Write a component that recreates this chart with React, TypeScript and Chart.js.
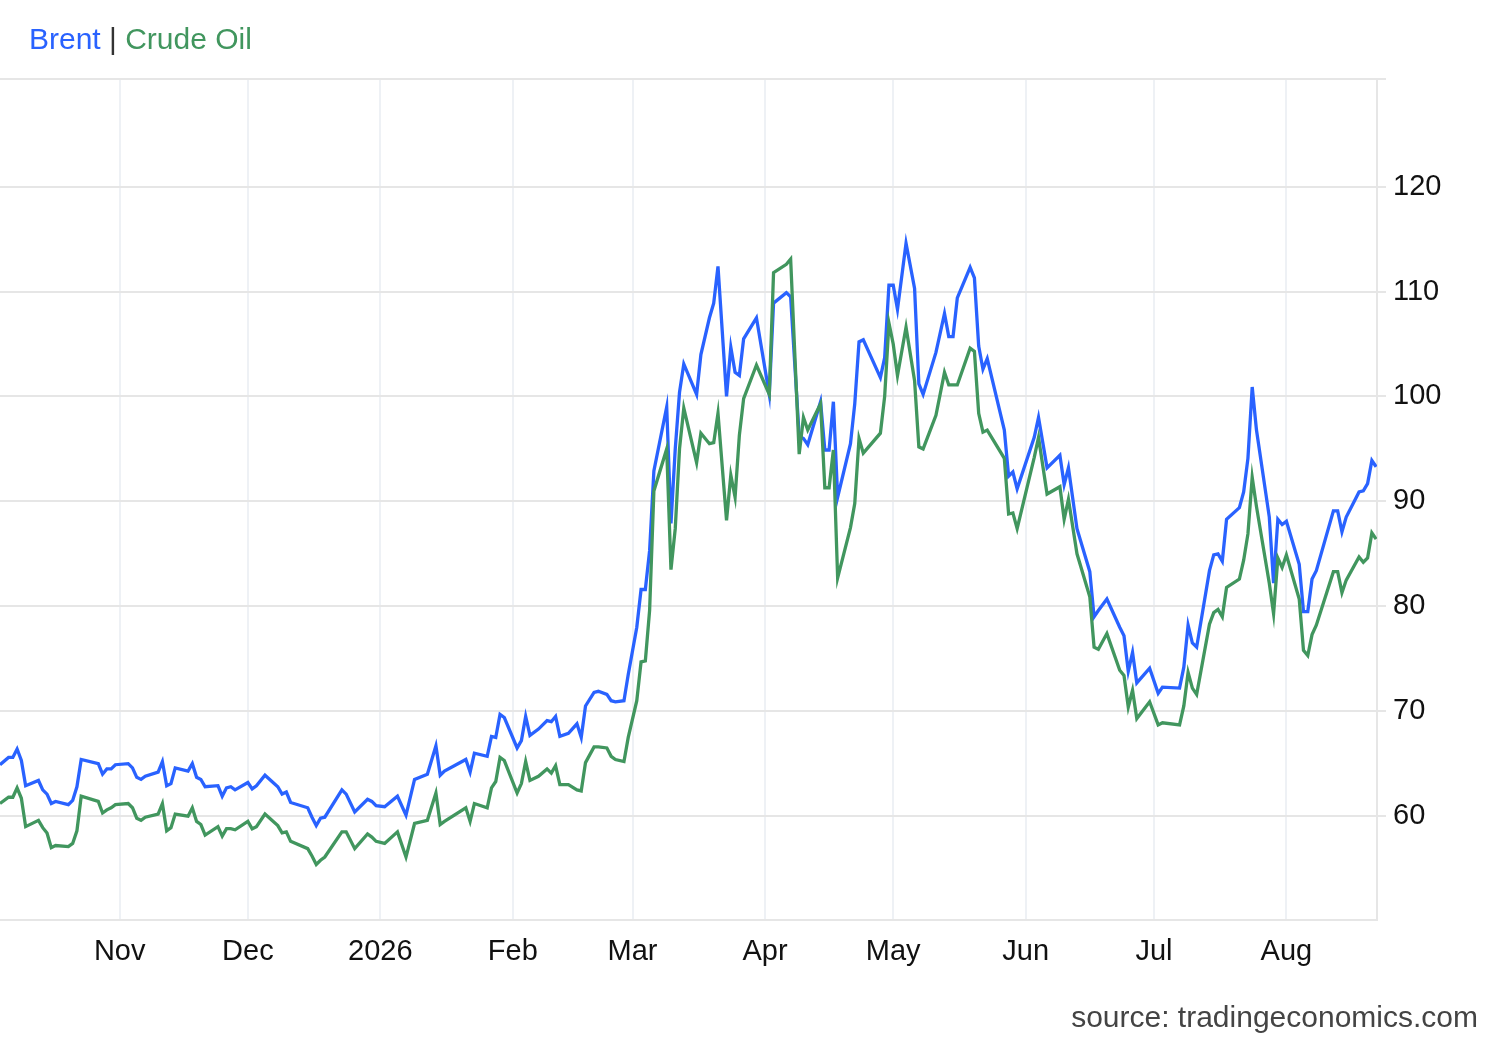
import React, { useEffect, useRef } from "react";
import { Chart, registerables } from "chart.js";

Chart.register(...registerables);

// ---- data ----
const dates = [
  "2025-10-04", "2025-10-06", "2025-10-07", "2025-10-08", "2025-10-09", "2025-10-10",
  "2025-10-13", "2025-10-14", "2025-10-15", "2025-10-16", "2025-10-17",
  "2025-10-20", "2025-10-21", "2025-10-22", "2025-10-23",
  "2025-10-27", "2025-10-28", "2025-10-29", "2025-10-30", "2025-10-31",
  "2025-11-03", "2025-11-04", "2025-11-05", "2025-11-06", "2025-11-07",
  "2025-11-10", "2025-11-11", "2025-11-12", "2025-11-13", "2025-11-14",
  "2025-11-17", "2025-11-18", "2025-11-19", "2025-11-20", "2025-11-21",
  "2025-11-24", "2025-11-25", "2025-11-26", "2025-11-27", "2025-11-28",
  "2025-12-01", "2025-12-02", "2025-12-03", "2025-12-05",
  "2025-12-08", "2025-12-09", "2025-12-10", "2025-12-11",
  "2025-12-15", "2025-12-16", "2025-12-17", "2025-12-18", "2025-12-19",
  "2025-12-23", "2025-12-24", "2025-12-26", "2025-12-29", "2025-12-30", "2025-12-31",
  "2026-01-02", "2026-01-05", "2026-01-07", "2026-01-09",
  "2026-01-12", "2026-01-14", "2026-01-15", "2026-01-16",
  "2026-01-21", "2026-01-22", "2026-01-23",
  "2026-01-26", "2026-01-27", "2026-01-28", "2026-01-29", "2026-01-30",
  "2026-02-02", "2026-02-03", "2026-02-04", "2026-02-05", "2026-02-07",
  "2026-02-09", "2026-02-10", "2026-02-11", "2026-02-12", "2026-02-14",
  "2026-02-16", "2026-02-17", "2026-02-18", "2026-02-20", "2026-02-21",
  "2026-02-23", "2026-02-24", "2026-02-25", "2026-02-27", "2026-02-28",
  "2026-03-02", "2026-03-03", "2026-03-04", "2026-03-05", "2026-03-06",
  "2026-03-09", "2026-03-10", "2026-03-11", "2026-03-12", "2026-03-13",
  "2026-03-16", "2026-03-17", "2026-03-19", "2026-03-20", "2026-03-21",
  "2026-03-23", "2026-03-24", "2026-03-25", "2026-03-26", "2026-03-27",
  "2026-03-30", "2026-04-02", "2026-04-03",
  "2026-04-06", "2026-04-07", "2026-04-09", "2026-04-10", "2026-04-11",
  "2026-04-14", "2026-04-15", "2026-04-16", "2026-04-17", "2026-04-18",
  "2026-04-21", "2026-04-22", "2026-04-23", "2026-04-24",
  "2026-04-28", "2026-04-29", "2026-04-30", "2026-05-01", "2026-05-02",
  "2026-05-04", "2026-05-06", "2026-05-07", "2026-05-08",
  "2026-05-11", "2026-05-13", "2026-05-14", "2026-05-15", "2026-05-16",
  "2026-05-19", "2026-05-20", "2026-05-21", "2026-05-22", "2026-05-23",
  "2026-05-27", "2026-05-28", "2026-05-29", "2026-05-30",
  "2026-06-03", "2026-06-04", "2026-06-06",
  "2026-06-09", "2026-06-10", "2026-06-11", "2026-06-13",
  "2026-06-16", "2026-06-17", "2026-06-18", "2026-06-20",
  "2026-06-23", "2026-06-24", "2026-06-25", "2026-06-26", "2026-06-27",
  "2026-06-30", "2026-07-02", "2026-07-03",
  "2026-07-07", "2026-07-08", "2026-07-09", "2026-07-10", "2026-07-11",
  "2026-07-14", "2026-07-15", "2026-07-16", "2026-07-17", "2026-07-18",
  "2026-07-21", "2026-07-22", "2026-07-23", "2026-07-24", "2026-07-25",
  "2026-07-28", "2026-07-29", "2026-07-30", "2026-07-31", "2026-08-01",
  "2026-08-04", "2026-08-05", "2026-08-06", "2026-08-07", "2026-08-08",
  "2026-08-12", "2026-08-13", "2026-08-14", "2026-08-15",
  "2026-08-18", "2026-08-19", "2026-08-20", "2026-08-21", "2026-08-22",
];

const brent = [
  64.9, 65.6, 65.6, 66.4, 65.3, 62.9,
  63.4, 62.5, 62.1, 61.2, 61.4,
  61.1, 61.5, 62.8, 65.4,
  65.0, 64.0, 64.5, 64.5, 64.9,
  65.0, 64.6, 63.7, 63.5, 63.8,
  64.2, 65.2, 62.9, 63.1, 64.6,
  64.3, 65.0, 63.7, 63.5, 62.8,
  62.9, 61.9, 62.7, 62.8, 62.5,
  63.2, 62.6, 62.9, 63.9,
  62.8, 62.1, 62.3, 61.3,
  60.8, 59.9, 59.1, 59.8, 59.9,
  62.5, 62.1, 60.4, 61.6, 61.4, 61.0,
  60.9, 61.9, 60.1, 63.5,
  64.0, 66.7, 63.9, 64.3,
  65.4, 64.2, 66.0,
  65.7, 67.6, 67.5, 69.7, 69.4,
  66.5, 67.2, 69.5, 67.7, 68.3,
  69.1, 69.0, 69.5, 67.6, 67.9,
  68.8, 67.5, 70.5, 71.8, 71.9,
  71.6, 71.0, 70.9, 71.0, 73.5,
  78.0, 81.6, 81.6, 85.3, 92.9,
  99.0, 87.9, 95.0, 100.4, 103.1,
  100.2, 104.0, 107.5, 108.9, 112.4,
  100.0, 104.7, 102.3, 102.0, 105.5,
  107.5, 100.2, 108.9,
  109.9, 109.5, 96.2, 96.0, 95.4,
  99.5, 94.9, 94.9, 99.5, 90.4,
  95.5, 99.3, 105.2, 105.4,
  101.8, 103.7, 110.6, 110.6, 108.3,
  114.6, 110.3, 101.2, 100.2,
  104.2, 107.9, 105.7, 105.7, 109.4,
  112.3, 111.3, 104.8, 102.6, 103.6,
  96.8, 92.4, 92.8, 91.2,
  96.1, 98.0, 93.2,
  94.4, 91.6, 93.2, 87.4,
  83.3, 79.0, 79.6, 80.7,
  78.0, 77.2, 73.8, 75.6, 72.7,
  74.1, 71.7, 72.3,
  72.2, 74.2, 78.2, 76.5, 76.1,
  83.4, 84.9, 85.0, 84.3, 88.3,
  89.4, 90.9, 94.1, 100.9, 96.8,
  88.5, 82.2, 88.3, 87.8, 88.1,
  84.0, 79.5, 79.5, 82.6, 83.4,
  89.1, 89.1, 87.1, 88.5,
  90.9, 91.0, 91.7, 93.9, 93.3,
];

const crudeOil = [
  61.2, 61.8, 61.8, 62.7, 61.7, 59.0,
  59.6, 58.9, 58.4, 57.0, 57.2,
  57.1, 57.4, 58.6, 61.9,
  61.4, 60.3, 60.6, 60.8, 61.1,
  61.2, 60.8, 59.8, 59.6, 59.9,
  60.2, 61.2, 58.6, 58.9, 60.2,
  60.0, 60.8, 59.5, 59.2, 58.2,
  59.0, 58.1, 58.8, 58.8, 58.7,
  59.5, 58.8, 59.0, 60.2,
  59.1, 58.4, 58.5, 57.6,
  56.9, 56.2, 55.4, 55.8, 56.1,
  58.5, 58.5, 56.9, 58.3, 58.0, 57.6,
  57.4, 58.5, 56.1, 59.3,
  59.6, 62.2, 59.2, 59.5,
  60.8, 59.5, 61.2,
  60.8, 62.7, 63.3, 65.6, 65.3,
  62.2, 63.1, 65.2, 63.4, 63.8,
  64.5, 64.1, 64.8, 63.0, 63.0,
  62.5, 62.4, 65.1, 66.6, 66.6,
  66.5, 65.7, 65.4, 65.2, 67.5,
  71.0, 74.7, 74.8, 79.6, 91.0,
  95.0, 83.5, 87.4, 95.0, 98.9,
  93.7, 96.5, 95.5, 95.6, 98.4,
  88.2, 92.5, 90.4, 96.3, 99.8,
  103.0, 100.2, 111.8,
  112.6, 113.1, 94.5, 98.0, 96.8,
  99.3, 91.3, 91.3, 94.9, 82.7,
  87.5, 89.8, 96.0, 94.6,
  96.5, 100.0, 107.0, 105.0, 102.0,
  106.6, 101.5, 95.2, 95.0,
  98.2, 102.3, 101.1, 101.1, 101.1,
  104.6, 104.3, 98.4, 96.6, 96.8,
  94.1, 88.8, 88.9, 87.4,
  94.2, 96.1, 90.7,
  91.4, 88.3, 90.2, 85.0,
  80.9, 76.1, 75.9, 77.4,
  73.9, 73.4, 70.4, 72.0, 69.3,
  70.9, 68.7, 68.9,
  68.7, 70.5, 73.7, 72.2, 71.6,
  78.3, 79.4, 79.7, 79.0, 81.8,
  82.6, 84.4, 86.9, 92.3, 89.5,
  82.2, 79.3, 84.6, 83.7, 84.9,
  80.7, 75.8, 75.3, 77.3, 78.2,
  83.3, 83.3, 81.3, 82.5,
  84.7, 84.2, 84.6, 87.0, 86.4,
];

const monthTickDates = [
  "2025-11-01", "2025-12-01", "2026-01-01", "2026-02-01", "2026-03-01",
  "2026-04-01", "2026-05-01", "2026-06-01", "2026-07-01", "2026-08-01",
];
const monthTickLabels = ["Nov", "Dec", "2026", "Feb", "Mar", "Apr", "May", "Jun", "Jul", "Aug"];
const priceTicks = [60, 70, 80, 90, 100, 110, 120];

// ---- helpers ----
const BASE = Date.UTC(2025, 9, 1);
const dayOf = (s: string): number => {
  const [y, m, d] = s.split("-").map(Number);
  return (Date.UTC(y, m - 1, d) - BASE) / 86400000;
};

const BLUE = "#2962ff";
const GREEN = "#41965e";
const FONT = '"Liberation Sans", Arial, Helvetica, sans-serif';

const topBorderPlugin = {
  id: "topBorder",
  beforeDatasetsDraw(chart: any) {
    const { ctx, chartArea } = chart;
    ctx.save();
    ctx.strokeStyle = "#e6e6e6";
    ctx.lineWidth = 2;
    ctx.beginPath();
    ctx.moveTo(0, chartArea.top);
    ctx.lineTo(chartArea.right + 9, chartArea.top);
    ctx.stroke();
    ctx.restore();
  },
};

export default function App() {
  const canvasRef = useRef<HTMLCanvasElement | null>(null);

  useEffect(() => {
    if (!canvasRef.current) return;
    const brentPts = dates.map((d, i) => ({ x: dayOf(d), y: brent[i] }));
    const crudePts = dates.map((d, i) => ({ x: dayOf(d), y: crudeOil[i] }));

    const chart = new Chart(canvasRef.current, {
      type: "line",
      data: {
        datasets: [
          {
            label: "Brent",
            data: brentPts,
            borderColor: BLUE,
            backgroundColor: BLUE,
            borderWidth: 3.3,
            pointRadius: 0,
            tension: 0,
            order: 1,
          },
          {
            label: "Crude Oil",
            data: crudePts,
            borderColor: GREEN,
            backgroundColor: GREEN,
            borderWidth: 3.3,
            pointRadius: 0,
            tension: 0,
            order: 0,
          },
        ],
      },
      plugins: [topBorderPlugin],
      options: {
        animation: false,
        responsive: false,
        devicePixelRatio: 1,
        layout: { padding: { top: 79, left: 0, right: 0, bottom: 0 } },
        plugins: {
          legend: { display: false },
          tooltip: { enabled: false },
          title: { display: false },
        },
        scales: {
          x: {
            type: "linear",
            position: "bottom",
            min: 3.0,
            max: 325.2,
            afterBuildTicks: (s: any) => {
              s.ticks = monthTickDates.map((d) => ({ value: dayOf(d) }));
            },
            afterFit: (s: any) => {
              s.height = 120;
            },
            ticks: {
              autoSkip: false,
              maxRotation: 0,
              padding: 15,
              color: "#111",
              font: { family: FONT, size: 29 },
              callback: (_v: any, i: number) => monthTickLabels[i],
            },
            grid: { color: "#eef1f5", lineWidth: 2, drawTicks: false },
            border: { color: "#e6e6e6", width: 2 },
          },
          y: {
            type: "linear",
            position: "right",
            min: 50.1,
            max: 130.26,
            afterBuildTicks: (s: any) => {
              s.ticks = priceTicks.map((v) => ({ value: v }));
            },
            afterFit: (s: any) => {
              s.width = 123;
            },
            ticks: {
              padding: 7,
              color: "#111",
              font: { family: FONT, size: 29 },
              callback: (v: any) => String(v),
            },
            grid: { color: "#e6e6e6", lineWidth: 2, tickLength: 9 },
            border: { color: "#e6e6e6", width: 2 },
          },
        },
      },
    } as any);

    return () => chart.destroy();
  }, []);

  return (
    <div style={{ position: "absolute", left: 0, top: 0, width: 1500, height: 1040, background: "#fff" }}>
      <canvas ref={canvasRef} width={1500} height={1040} style={{ display: "block" }} />
      <div
        style={{
          position: "absolute",
          left: 29,
          top: 23.6,
          fontFamily: FONT,
          fontSize: 30,
          lineHeight: "30px",
          whiteSpace: "nowrap",
        }}
      >
        <span style={{ color: BLUE }}>Brent</span>
        <span style={{ color: "#333" }}> | </span>
        <span style={{ color: GREEN }}>Crude Oil</span>
      </div>
      <div
        style={{
          position: "absolute",
          right: 22,
          top: 1001.6,
          fontFamily: FONT,
          fontSize: 30,
          lineHeight: "30px",
          color: "#444",
          whiteSpace: "nowrap",
        }}
      >
        source: tradingeconomics.com
      </div>
    </div>
  );
}
